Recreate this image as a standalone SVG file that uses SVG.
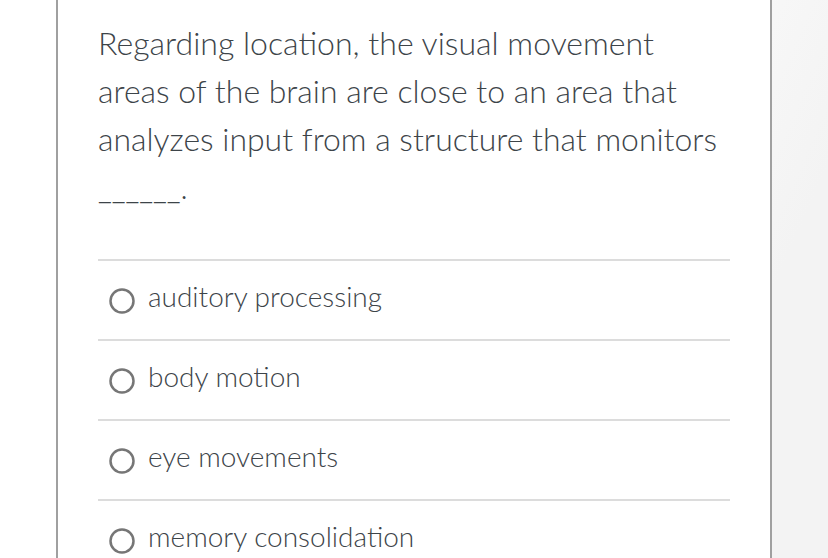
<svg xmlns="http://www.w3.org/2000/svg" width="828" height="558" viewBox="0 0 828 558">
<defs>
<linearGradient id="bg" x1="0" y1="0" x2="1" y2="0.3">
<stop offset="0.6" stop-color="#ffffff"/><stop offset="1" stop-color="#f3f3f3"/>
</linearGradient>
<style>
.q{font-family:Lato,"Liberation Sans",sans-serif;font-weight:300;font-size:30.5px;fill:#3d4449}
.o{font-family:Lato,"Liberation Sans",sans-serif;font-weight:300;font-size:28px;fill:#3d4449}
.sep{stroke:#dcdcdc;stroke-width:2}
.r{fill:#fff;stroke:#767676;stroke-width:2.5}
</style>
</defs>
<rect width="828" height="558" fill="url(#bg)"/>
<rect x="57" y="-5" width="714" height="570" fill="#fff" stroke="#a0a0a0" stroke-width="2"/>
<g id="question">
<text class="q" x="98" y="55" textLength="556" lengthAdjust="spacingAndGlyphs">Regarding location, the visual movement</text>
<text class="q" x="98" y="103" textLength="579" lengthAdjust="spacingAndGlyphs">areas of the brain are close to an area that</text>
<text class="q" x="98" y="151" textLength="619" lengthAdjust="spacingAndGlyphs">analyzes input from a structure that monitors</text>
<text class="q" x="98" y="199">______.</text>
</g>
<g id="separators">
<line class="sep" x1="98" y1="260" x2="730" y2="260"/>
<line class="sep" x1="98" y1="340" x2="730" y2="340"/>
<line class="sep" x1="98" y1="420" x2="730" y2="420"/>
<line class="sep" x1="98" y1="500" x2="730" y2="500"/>
</g>
<g id="opt1"><circle class="r" cx="122" cy="301" r="11.5"/><text class="o" x="148" y="307">auditory processing</text></g>
<g id="opt2"><circle class="r" cx="122" cy="381" r="11.5"/><text class="o" x="148" y="387">body motion</text></g>
<g id="opt3"><circle class="r" cx="122" cy="461" r="11.5"/><text class="o" x="148" y="467">eye movements</text></g>
<g id="opt4"><circle class="r" cx="122" cy="541" r="11.5"/><text class="o" x="148" y="547">memory consolidation</text></g>
</svg>
